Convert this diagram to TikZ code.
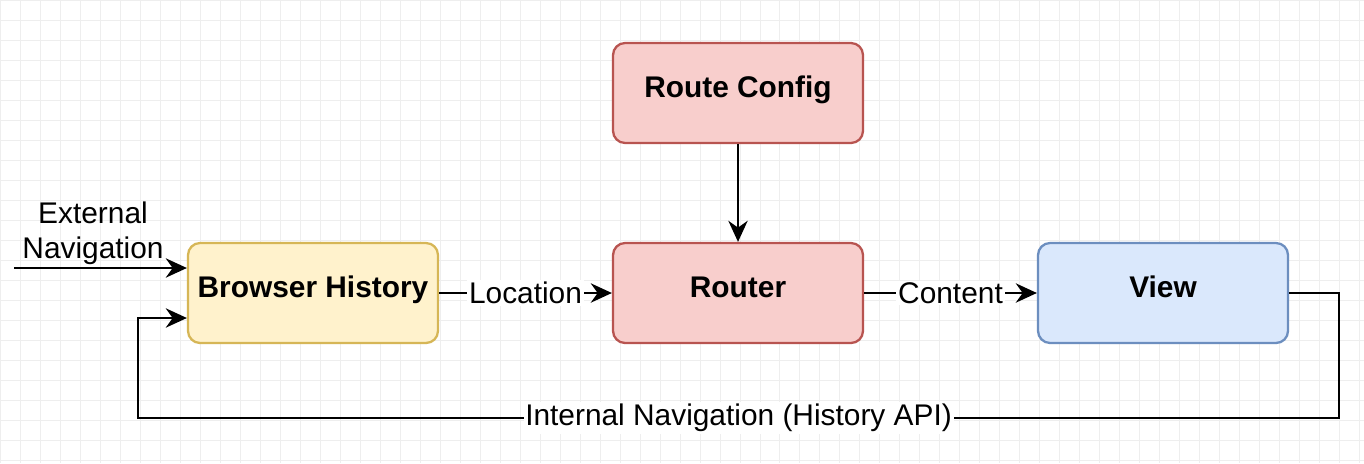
\documentclass[tikz,border=0pt]{standalone}
\usepackage{fontspec}
\setmainfont{Liberation Sans}
\usetikzlibrary{arrows.meta, positioning}
\definecolor{redfill}{HTML}{F8CECC}
\definecolor{redline}{HTML}{B85450}
\definecolor{yelfill}{HTML}{FFF2CC}
\definecolor{yelline}{HTML}{D6B656}
\definecolor{bluefill}{HTML}{DAE8FC}
\definecolor{blueline}{HTML}{6C8EBF}
\definecolor{gridline}{HTML}{EEEEEE}
\tikzset{
  box/.style={rounded corners=12*0.02cm, line width=1.3pt, minimum width=5cm, minimum height=2cm, text height=0.75em, text depth=0.29em, font=\fontsize{17}{20}\selectfont\bfseries},
  lbl/.style={font=\fontsize{17}{20}\selectfont, fill=white, inner sep=1pt},
  flow/.style={-{Stealth[length=12pt, width=11pt]}, line width=1.3pt}
}
\begin{document}
\begin{tikzpicture}[x=0.02cm, y=-0.02cm]
  \useasboundingbox (0,0) rectangle (1364,463);
  \fill[white] (0,0) rectangle (1364,463);
  \draw[gridline, step=0.4cm] (0,0) grid (1364,463);

  \node[box, fill=redfill, draw=redline] (config) at (738,93) {Route Config};
  \node[box, fill=redfill, draw=redline] (router) at (738,293) {Router};
  \node[box, fill=yelfill, draw=yelline] (history) at (313,293) {Browser History};
  \node[box, fill=bluefill, draw=blueline] (view) at (1163,293) {View};
  \coordinate (ext) at (14,268);
  \node[font=\fontsize{17}{20}\selectfont, align=center, inner sep=0pt] (extlbl) at (93,233) {External\\Navigation};

  \draw[flow] (config) -- (router);
  \draw[flow] (ext) -- (ext -| history.west);
  \draw[flow] (history) -- node[lbl] {Location} (router);
  \draw[flow] (router) -- node[lbl] {Content} (view);
  \draw[flow] (view.east) -- ++(50,0) |- (138,418)
    node[lbl, pos=0.75] {Internal Navigation (History API)} |- ([yshift=-25*0.02cm]history.west);
\end{tikzpicture}
\end{document}
